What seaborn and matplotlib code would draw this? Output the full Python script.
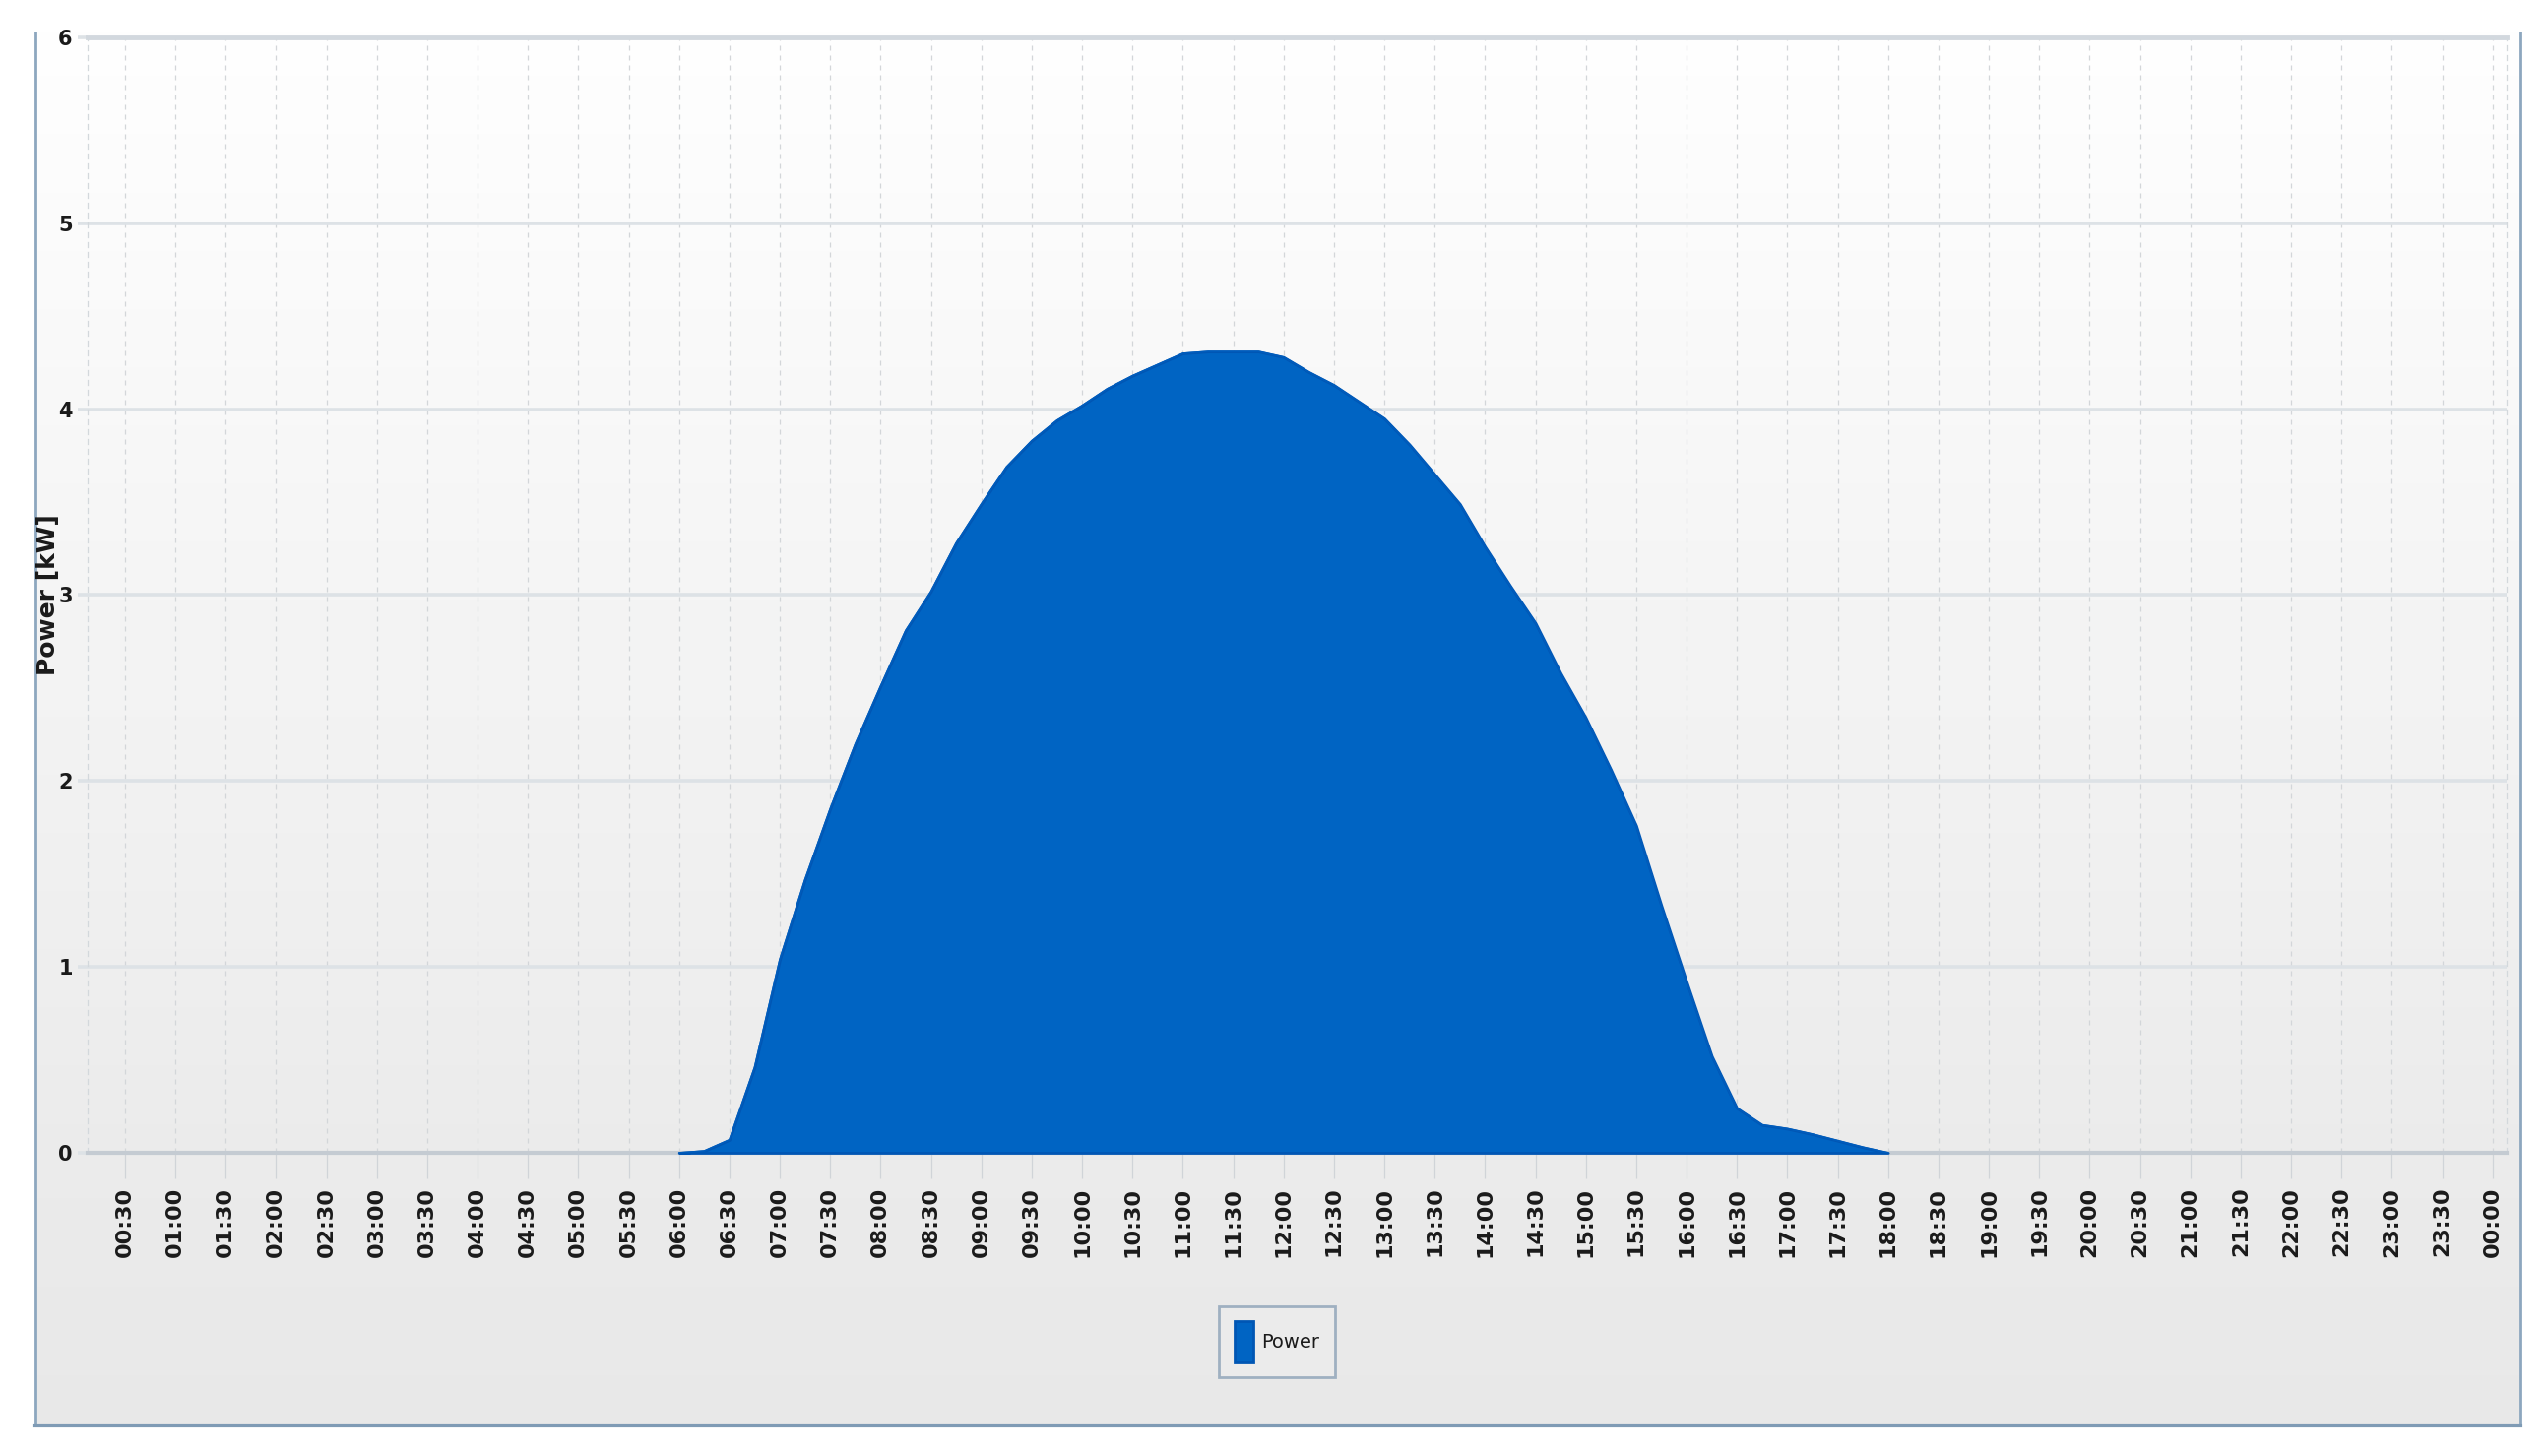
import numpy as np
import pandas as pd
import matplotlib
matplotlib.use("Agg")
import matplotlib.pyplot as plt
import seaborn as sns

# ---------------- data ----------------
times = ["06:00", "06:15", "06:30", "06:45", "07:00", "07:15", "07:30", "07:45",
         "08:00", "08:15", "08:30", "08:45", "09:00", "09:15", "09:30", "09:45",
         "10:00", "10:15", "10:30", "10:45", "11:00", "11:15", "11:30", "11:45",
         "12:00", "12:15", "12:30", "12:45", "13:00", "13:15", "13:30", "13:45",
         "14:00", "14:15", "14:30", "14:45", "15:00", "15:15", "15:30", "15:45",
         "16:00", "16:15", "16:30", "16:45", "17:00", "17:15", "17:30", "17:45",
         "18:00"]
power_kw = [0.00, 0.01, 0.07, 0.46, 1.04, 1.47, 1.85, 2.20,
            2.51, 2.81, 3.02, 3.28, 3.49, 3.69, 3.83, 3.94,
            4.02, 4.11, 4.18, 4.24, 4.30, 4.31, 4.31, 4.31,
            4.28, 4.20, 4.13, 4.04, 3.95, 3.81, 3.65, 3.49,
            3.26, 3.05, 2.85, 2.58, 2.34, 2.06, 1.76, 1.33,
            0.92, 0.52, 0.24, 0.15, 0.13, 0.10, 0.065, 0.03,
            0.00]

tick_labels = ["00:30", "01:00", "01:30", "02:00", "02:30", "03:00", "03:30", "04:00",
               "04:30", "05:00", "05:30", "06:00", "06:30", "07:00", "07:30", "08:00",
               "08:30", "09:00", "09:30", "10:00", "10:30", "11:00", "11:30", "12:00",
               "12:30", "13:00", "13:30", "14:00", "14:30", "15:00", "15:30", "16:00",
               "16:30", "17:00", "17:30", "18:00", "18:30", "19:00", "19:30", "20:00",
               "20:30", "21:00", "21:30", "22:00", "22:30", "23:00", "23:30", "00:00"]
y_ticks = [0, 1, 2, 3, 4, 5, 6]


def to_hours(s):
    h, m = s.split(":")
    return int(h) + int(m) / 60.0


df = pd.DataFrame({"hour": [to_hours(t) for t in times], "power": power_kw})
tick_pos = [to_hours(t) for t in tick_labels]
tick_pos[-1] = 24.0

# ---------------- style ----------------
sns.set_theme(style="white")
plt.rcParams["font.family"] = ["DejaVu Sans"]

W, H = 2587, 1479
fig = plt.figure(figsize=(W / 100, H / 100), dpi=100)
fig.patch.set_facecolor("white")

# panel with vertical gradient
pl, pr, pt, pb = 36, 2560, 33, 1448
bg = fig.add_axes([pl / W, (H - pb) / H, (pr - pl) / W, (pb - pt) / H], zorder=0)
n = 400
ys = np.linspace(0, 1, n)  # 0 top -> 1 bottom
split = (1171 - pt) / (pb - pt)
vals = np.where(ys < split, 0.995 - 0.075 * (ys / split), 0.92 - 0.012 * (ys - split) / (1 - split))
bg.imshow(vals[:, None], aspect="auto", cmap="gray", vmin=0, vmax=1,
          extent=[0, 1, 0, 1], interpolation="bilinear")
bg.set_xlim(0, 1)
bg.set_ylim(0, 1)
bg.set_xticks([])
bg.set_yticks([])
for side in ["left", "right"]:
    bg.spines[side].set_color("#8da7bf")
    bg.spines[side].set_linewidth(2.0)
bg.spines["bottom"].set_color("#7f9bb5")
bg.spines["bottom"].set_linewidth(3.0)
bg.spines["top"].set_visible(False)

# main plot axes
al, ar, at, ab = 89, 2546, 38, 1171
ax = fig.add_axes([al / W, (H - ab) / H, (ar - al) / W, (ab - at) / H], zorder=1)
ax.set_facecolor("none")

fill_color = "#0064C3"
ax.fill_between(df["hour"], 0, df["power"], facecolor=fill_color, edgecolor="#0056b4",
                linewidth=2.0, zorder=3, clip_on=False, label="Power")
sns.lineplot(data=df, x="hour", y="power", ax=ax, color="#005cbc", linewidth=1.2,
             zorder=4, legend=False)

ax.set_xlim(0.13, 24.14)
ax.set_ylim(0, 6)

ax.set_axisbelow(True)
ax.yaxis.grid(True, color="#dde2e6", linewidth=2.6)
ax.xaxis.grid(True, color="#d3d6d9", linewidth=0.9, linestyle=(0, (4, 4)))

ax.set_xticks(tick_pos)
ax.set_xticklabels(tick_labels, rotation=90, fontsize=16, fontweight="bold", color="#1a1a1a")
ax.set_yticks(y_ticks)
ax.set_yticklabels([str(v) for v in y_ticks], fontsize=15, fontweight="bold", color="#1a1a1a")
ax.tick_params(axis="x", length=19, width=0.9, color="#d0d4d8", pad=6, bottom=True)
ax.tick_params(axis="y", length=7, width=2.6, color="#dde2e6", pad=4, left=True)

for side in ["left", "right"]:
    ax.spines[side].set_visible(True)
    ax.spines[side].set_color("#d3d8dc")
    ax.spines[side].set_linewidth(0.9)
    ax.spines[side].set_linestyle((0, (4, 4)))
ax.spines["top"].set_visible(True)
ax.spines["top"].set_color("#d2d8de")
ax.spines["top"].set_linewidth(3.5)
ax.spines["bottom"].set_visible(True)
ax.spines["bottom"].set_color("#c4cbd2")
ax.spines["bottom"].set_linewidth(3.0)

ax.set_xlabel("")
ax.set_ylabel("Power [kW]", fontsize=18, fontweight="bold", color="#1a1a1a")
ax.yaxis.set_label_coords((61 - al) / (ar - al), 0.5)

leg = ax.legend(loc="center", bbox_to_anchor=(1297 / W, (H - 1363) / H),
                bbox_transform=fig.transFigure, fontsize=14, handlelength=1.0,
                handleheight=2.9, borderpad=0.8, handletextpad=0.4,
                fancybox=False, framealpha=1.0)
leg.get_frame().set_facecolor("#ebebeb")
leg.get_frame().set_edgecolor("#9fb0c1")
leg.get_frame().set_linewidth(2.0)
for t in leg.get_texts():
    t.set_color("#1a1a1a")

fig.savefig("out.png", dpi=100)
